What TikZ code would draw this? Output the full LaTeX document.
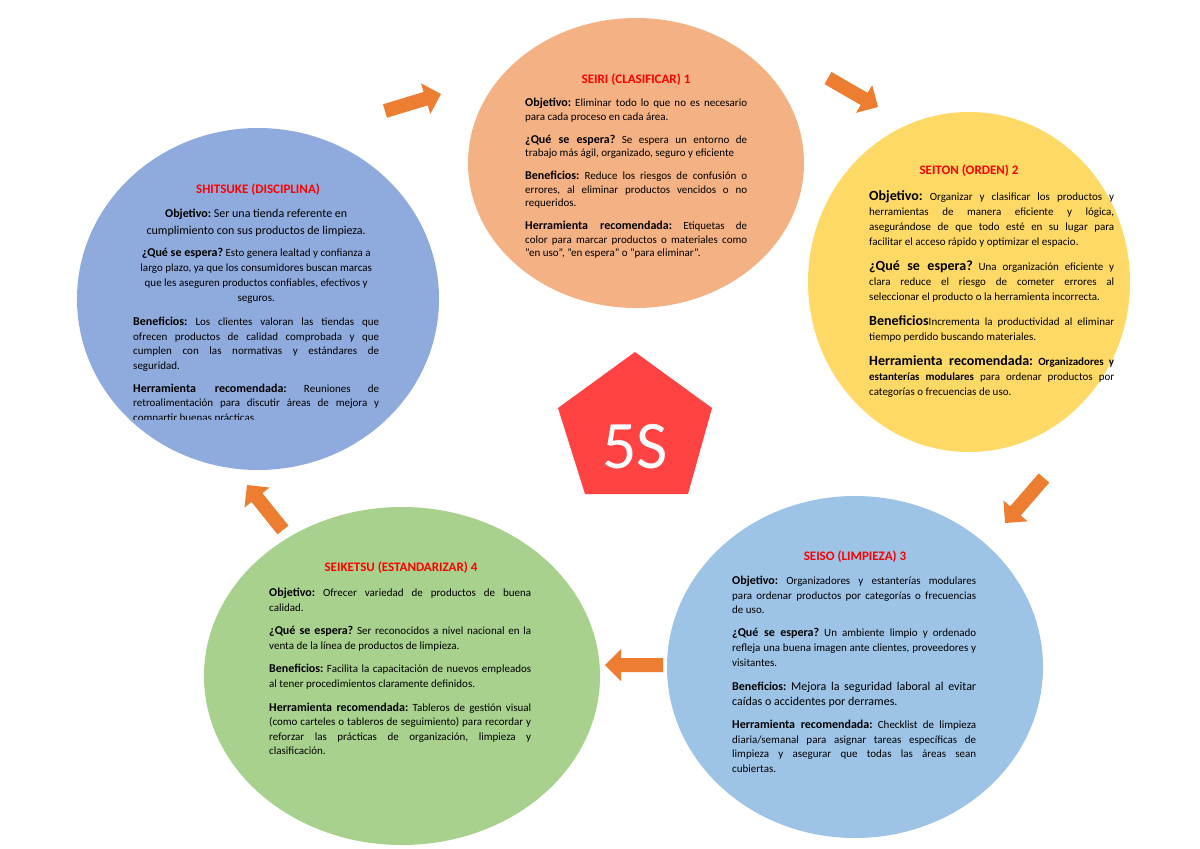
\documentclass[tikz,border=0pt]{standalone}
\usepackage{fontspec}
\setmainfont{Carlito}
\usetikzlibrary{shapes.geometric}
\definecolor{cSeiri}{HTML}{F4B183}
\definecolor{cSeiton}{HTML}{FFD966}
\definecolor{cShitsuke}{HTML}{8FAADC}
\definecolor{cSeiso}{HTML}{9DC3E6}
\definecolor{cSeiketsu}{HTML}{A9D18E}
\definecolor{cPenta}{HTML}{FF4343}
\definecolor{cArrow}{HTML}{ED7D31}
\definecolor{cTitle}{HTML}{FF0000}
\hyphenpenalty=10000
\exhyphenpenalty=10000
\tolerance=10000
\hbadness=10000
\frenchspacing
\tikzset{
  blob/.style={ellipse, inner sep=0pt, draw=none},
  ttl/.style={anchor=base, inner sep=0pt, text=cTitle, font=\fontsize{13}{15}\selectfont\bfseries},
  txt/.style={anchor=base west, inner sep=0pt},
  arrowfill/.style={fill=cArrow, draw=none},
}
\newcommand\blockarrow[3]{%
  \begin{scope}[shift={#1},rotate=#2]
    \fill[arrowfill] (0,-7) -- ({#3-16},-7) -- ({#3-16},-16) -- (#3,0) -- ({#3-16},16) -- ({#3-16},7) -- (0,7) -- cycle;
  \end{scope}}
\newcommand\hdA[1]{{\fontsize{14}{15}\selectfont\bfseries #1}}
\newcommand\hd[1]{{\fontsize{12}{13}\selectfont\bfseries #1}}
\begin{document}
\begin{tikzpicture}[x=1pt,y=-1pt]
\useasboundingbox (0,0) rectangle (1200,849);
\fill[white] (0,0) rectangle (1200,849);

% ellipses
\node[blob, fill=cShitsuke, minimum width=362pt, minimum height=342pt] (shitsuke) at (258,299) {};
\node[blob, fill=cSeiketsu, minimum width=396pt, minimum height=338pt] (seiketsu) at (402,676) {};
\node[blob, fill=cSeiso, minimum width=376pt, minimum height=342pt] (seiso) at (855,667) {};
\node[blob, fill=cSeiri, minimum width=336pt, minimum height=290pt] (seiri) at (636,163) {};
\node[blob, fill=cSeiton, minimum width=322pt, minimum height=340pt] (seiton) at (969,282) {};

% pentagon
\fill[cPenta] (635,352) -- (712,408) -- (688,494) -- (585,494) -- (558,408) -- cycle;
\node[anchor=base, inner sep=0pt, text=white, font=\fontsize{68}{70}\selectfont] (fiveS) at (635,468) {5S};

% arrows
\blockarrow{(385,111)}{16.9}{58.5}
\blockarrow{(828,78)}{-30.1}{57.8}
\blockarrow{(1044,478)}{229.1}{59.5}
\blockarrow{(663,665)}{180}{58}
\blockarrow{(283,530)}{128.7}{57.6}

% SEIRI
\node[ttl] (seiriT) at (636,83.5) {SEIRI (CLASIFICAR) 1};
\node[txt] (seiriX) at (525,106.5) {\parbox[t]{222pt}{\fontsize{11}{13.5}\selectfont\setlength\parindent{0pt}\setlength\parskip{9.5pt}%
\hd{Objetivo:} Eliminar todo lo que no es necesario\linebreak para cada proceso en cada área.\par
\hd{¿Qué se espera?} Se espera un entorno de\linebreak trabajo más ágil, organizado, seguro y eficiente\par
\hd{Beneficios:} Reduce los riesgos de confusión o\linebreak errores, al eliminar productos vencidos o no\linebreak requeridos.\par
\hd{Herramienta recomendada:} Etiquetas de\linebreak color para marcar productos o materiales como\linebreak "en uso", "en espera" o "para eliminar".\par}};

% SEITON
\node[ttl] (seitonT) at (969,174.5) {SEITON (ORDEN) 2};
\node[txt] (seitonX) at (869,200.5) {\parbox[t]{245pt}{\fontsize{11}{15}\selectfont\setlength\parindent{0pt}\setlength\parskip{10pt}%
\hdA{Objetivo:} Organizar y clasificar los productos y\linebreak herramientas de manera eficiente y lógica,\linebreak asegurándose de que todo esté en su lugar para\linebreak facilitar el acceso rápido y optimizar el espacio.\par
\hdA{¿Qué se espera?} Una organización eficiente y\linebreak clara reduce el riesgo de cometer errores al\linebreak seleccionar el producto o la herramienta incorrecta.\par
\hdA{Beneficios}Incrementa la productividad al eliminar\linebreak tiempo perdido buscando materiales.\par
\hdA{Herramienta recomendada:} {\fontsize{11}{15}\selectfont\bfseries Organizadores y\linebreak estanterías modulares} para ordenar productos por\linebreak categorías o frecuencias de uso.\par}};

% SHITSUKE
\node[ttl] (shitsukeT) at (258,193.5) {SHITSUKE (DISCIPLINA)};
\begin{scope}
\clip (0,0) rectangle (1200,419.5);
\node[txt] (shitsukeX) at (133,217) {\parbox[t]{246pt}{\setlength\parindent{0pt}\setlength\parskip{0pt}%
{\fontsize{12}{17}\selectfont\centering
\hd{Objetivo:} Ser una tienda referente en\\ cumplimiento con sus productos de limpieza.\par}
\vspace{8pt}
{\fontsize{11}{14.8}\selectfont\centering
\hd{¿Qué se espera?} Esto genera lealtad y confianza a\\ largo plazo, ya que los consumidores buscan marcas\\ que les aseguren productos confiables, efectivos y\\ seguros.\par}
\vspace{10pt}
{\fontsize{11}{14.5}\selectfont
\hd{Beneficios:} Los clientes valoran las tiendas que\linebreak ofrecen productos de calidad comprobada y que\linebreak cumplen con las normativas y estándares de\linebreak seguridad.\par
\vspace{8.5pt}
\hd{Herramienta recomendada:} Reuniones de\linebreak retroalimentación para discutir áreas de mejora y\linebreak compartir buenas prácticas.\par}}};
\end{scope}

% SEISO
\node[ttl] (seisoT) at (855,560.5) {SEISO (LIMPIEZA) 3};
\node[txt] (seisoX) at (732,584.5) {\parbox[t]{244pt}{\fontsize{11}{14.6}\selectfont\setlength\parindent{0pt}\setlength\parskip{8.5pt}%
\hd{Objetivo:} Organizadores y estanterías modulares\linebreak para ordenar productos por categorías o frecuencias\linebreak de uso.\par
\hd{¿Qué se espera?} Un ambiente limpio y ordenado\linebreak refleja una buena imagen ante clientes, proveedores y\linebreak visitantes.\par
{\fontsize{12}{15.5}\selectfont\hd{Beneficios:} Mejora la seguridad laboral al evitar\linebreak caídas o accidentes por derrames.\par}
\hd{Herramienta recomendada:} Checklist de limpieza\linebreak diaria/semanal para asignar tareas específicas de\linebreak limpieza y asegurar que todas las áreas sean\linebreak cubiertas.\par}};

% SEIKETSU
\node[ttl] (seiketsuT) at (401,571.5) {SEIKETSU (ESTANDARIZAR) 4};
\node[txt] (seiketsuX) at (269,596.5) {\parbox[t]{262pt}{\fontsize{11}{14.6}\selectfont\setlength\parindent{0pt}\setlength\parskip{9pt}%
\hd{Objetivo:} Ofrecer variedad de productos de buena\linebreak calidad.\par
\hd{¿Qué se espera?} Ser reconocidos a nivel nacional en la\linebreak venta de la línea de productos de limpieza.\par
\hd{Beneficios:} Facilita la capacitación de nuevos empleados\linebreak al tener procedimientos claramente definidos.\par
\hd{Herramienta recomendada:} Tableros de gestión visual\linebreak (como carteles o tableros de seguimiento) para recordar y\linebreak reforzar las prácticas de organización, limpieza y\linebreak clasificación.\par}};
\end{tikzpicture}
\end{document}
